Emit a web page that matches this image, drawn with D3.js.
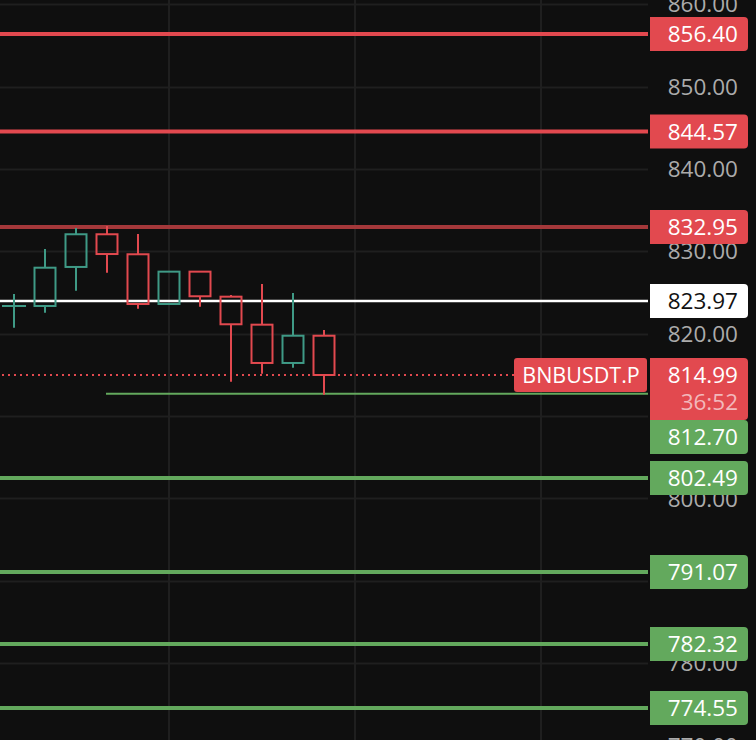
<!DOCTYPE html>
<html>
<head>
<meta charset="utf-8">
<script src="https://cdn.jsdelivr.net/npm/d3@7"></script>
<style>
html,body{margin:0;padding:0;background:#0f0f0f;overflow:hidden;}
svg{display:block;}
</style>
</head>
<body>
<svg id="chart" width="756" height="740"></svg>
<script>
// ---- data ----
const candleIndex = [0,1,2,3,4,5,6,7,8,9,10];
const candleOpen  = [823.37, 823.37, 828.11, 832.08, 829.65, 823.61, 827.54, 824.50, 821.10, 816.45, 819.76];
const candleHigh  = [824.83, 830.29, 832.84, 833.08, 832.11, 827.54, 827.54, 824.71, 826.04, 824.95, 820.46];
const candleLow   = [820.74, 822.56, 825.23, 827.41, 823.04, 823.61, 823.29, 814.18, 815.15, 815.88, 812.60];
const candleClose = [823.37, 828.02, 832.08, 829.68, 823.61, 827.54, 824.55, 821.15, 816.45, 819.76, 814.99];

const resistanceLevels = [856.40, 844.57, 832.95];
const supportLevels    = [812.70, 802.49, 791.07, 782.32, 774.55];
const pivotLevel = 823.97;
const lastPrice = 814.99;
const symbolName = "BNBUSDT.P";
const countdown = "36:52";
const priceTicks = [860, 850, 840, 830, 820, 810, 800, 790, 780, 770];
const timeGridIndex = [5, 11, 17];

// ---- layout ----
const W = 756, H = 740, paneRight = 648;
const svg = d3.select("#chart");
const y = d3.scaleLinear().domain([774.55, 856.40]).range([708, 34]);
const x = d3.scaleLinear().domain([0, 10]).range([14, 324]);

const RED = "#e2494f", DARKRED = "#a4383a", GREEN = "#63a95d", TEAL = "#3f9a86", GRID = "#1f1f1f";
const FONT = "'Open Sans', sans-serif";
const FS = 22.5;

svg.append("rect").attr("width", W).attr("height", H).attr("fill", "#0f0f0f");

// grid
const g = svg.append("g");
g.selectAll(".hg").data(priceTicks).join("line")
  .attr("x1", 0).attr("x2", paneRight)
  .attr("y1", d => Math.round(y(d)) + 0.5).attr("y2", d => Math.round(y(d)) + 0.5)
  .attr("stroke", GRID).attr("stroke-width", 2);
g.selectAll(".vg").data(timeGridIndex).join("line")
  .attr("x1", d => Math.round(x(d))).attr("x2", d => Math.round(x(d)))
  .attr("y1", 0).attr("y2", H)
  .attr("stroke", GRID).attr("stroke-width", 2);

// level lines
const lines = svg.append("g");
lines.selectAll(".res").data(resistanceLevels).join("line")
  .attr("x1", 0).attr("x2", paneRight)
  .attr("y1", d => y(d)).attr("y2", d => y(d))
  .attr("stroke", (d, i) => i === 2 ? DARKRED : RED).attr("stroke-width", 4);
lines.selectAll(".sup").data(supportLevels).join("line")
  .attr("x1", (d, i) => i === 0 ? x(3) - 1 : 0).attr("x2", paneRight)
  .attr("y1", d => y(d)).attr("y2", d => y(d))
  .attr("stroke", GREEN).attr("stroke-width", (d, i) => i === 0 ? 2 : 4);
lines.append("line")
  .attr("x1", 0).attr("x2", paneRight)
  .attr("y1", y(pivotLevel)).attr("y2", y(pivotLevel))
  .attr("stroke", "#ffffff").attr("stroke-width", 2.5);
lines.append("line")
  .attr("x1", 2).attr("x2", 514)
  .attr("y1", y(lastPrice)).attr("y2", y(lastPrice))
  .attr("stroke", RED).attr("stroke-width", 2).attr("stroke-dasharray", "2 4");

// candles
const candles = candleIndex.map(i => ({i, o: candleOpen[i], h: candleHigh[i], l: candleLow[i], c: candleClose[i]}));
const cg = svg.append("g").selectAll("g").data(candles).join("g")
  .attr("stroke", d => d.c >= d.o ? TEAL : RED).attr("stroke-width", 2).attr("fill", "none");
cg.append("line")
  .attr("x1", d => x(d.i)).attr("x2", d => x(d.i))
  .attr("y1", d => y(d.h)).attr("y2", d => y(Math.max(d.o, d.c)));
cg.append("line")
  .attr("x1", d => x(d.i)).attr("x2", d => x(d.i))
  .attr("y1", d => y(Math.min(d.o, d.c))).attr("y2", d => y(d.l));
cg.filter(d => Math.abs(d.o - d.c) > 0.2).append("rect")
  .attr("x", d => x(d.i) - 10.5).attr("width", 21)
  .attr("y", d => y(Math.max(d.o, d.c))).attr("height", d => y(Math.min(d.o, d.c)) - y(Math.max(d.o, d.c)));
cg.filter(d => Math.abs(d.o - d.c) <= 0.2).append("line")
  .attr("x1", d => x(d.i) - 12).attr("x2", d => x(d.i) + 12)
  .attr("y1", d => y(d.o)).attr("y2", d => y(d.o));

function roundedBox(x0, y0, x1, y1, rl, rr) {
  return `M${x0 + rl},${y0} H${x1 - rr} Q${x1},${y0} ${x1},${y0 + rr} V${y1 - rr} Q${x1},${y1} ${x1 - rr},${y1} H${x0 + rl} Q${x0},${y1} ${x0},${y1 - rl} V${y0 + rl} Q${x0},${y0} ${x0 + rl},${y0} Z`;
}

// symbol label on pane
const symTop = y(lastPrice) - 17;
svg.append("path")
  .attr("d", roundedBox(514, symTop, 647, symTop + 34, 3, 3))
  .attr("fill", RED);
svg.append("text").attr("x", 581).attr("y", symTop + 17).attr("dy", "0.36em")
  .attr("text-anchor", "middle").attr("font-family", FONT).attr("font-size", 21.5)
  .attr("fill", "#ffffff").text(symbolName);

// axis tick labels
svg.append("g").selectAll("text").data(priceTicks).join("text")
  .attr("x", 738).attr("y", d => y(d)).attr("dy", "0.36em")
  .attr("text-anchor", "end").attr("font-family", FONT).attr("font-size", FS)
  .attr("fill", "#ababab").text(d => d.toFixed(2));

function axisLabel(price, top, h, fill, textFill) {
  svg.append("path").attr("d", roundedBox(650, top, 748, top + h, 0, 4)).attr("fill", fill);
  svg.append("text").attr("x", 738).attr("y", top + 17).attr("dy", "0.36em")
    .attr("text-anchor", "end").attr("font-family", FONT).attr("font-size", FS)
    .attr("fill", textFill).text(price.toFixed(2));
}

resistanceLevels.forEach(p => axisLabel(p, y(p) - 17, 34, RED, "#ffffff"));
axisLabel(pivotLevel, y(pivotLevel) - 17, 34, "#ffffff", "#111111");
const curTop = y(lastPrice) - 17;
axisLabel(lastPrice, curTop, 62, RED, "#ffffff");
svg.append("text").attr("x", 738).attr("y", curTop + 44).attr("dy", "0.36em")
  .attr("text-anchor", "end").attr("font-family", FONT).attr("font-size", FS)
  .attr("fill", "#f2b8bb").text(countdown);
supportLevels.forEach(p => {
  const top = Math.max(y(p) - 17, curTop + 62);
  axisLabel(p, top, 34, GREEN, "#ffffff");
});
</script>
</body>
</html>
